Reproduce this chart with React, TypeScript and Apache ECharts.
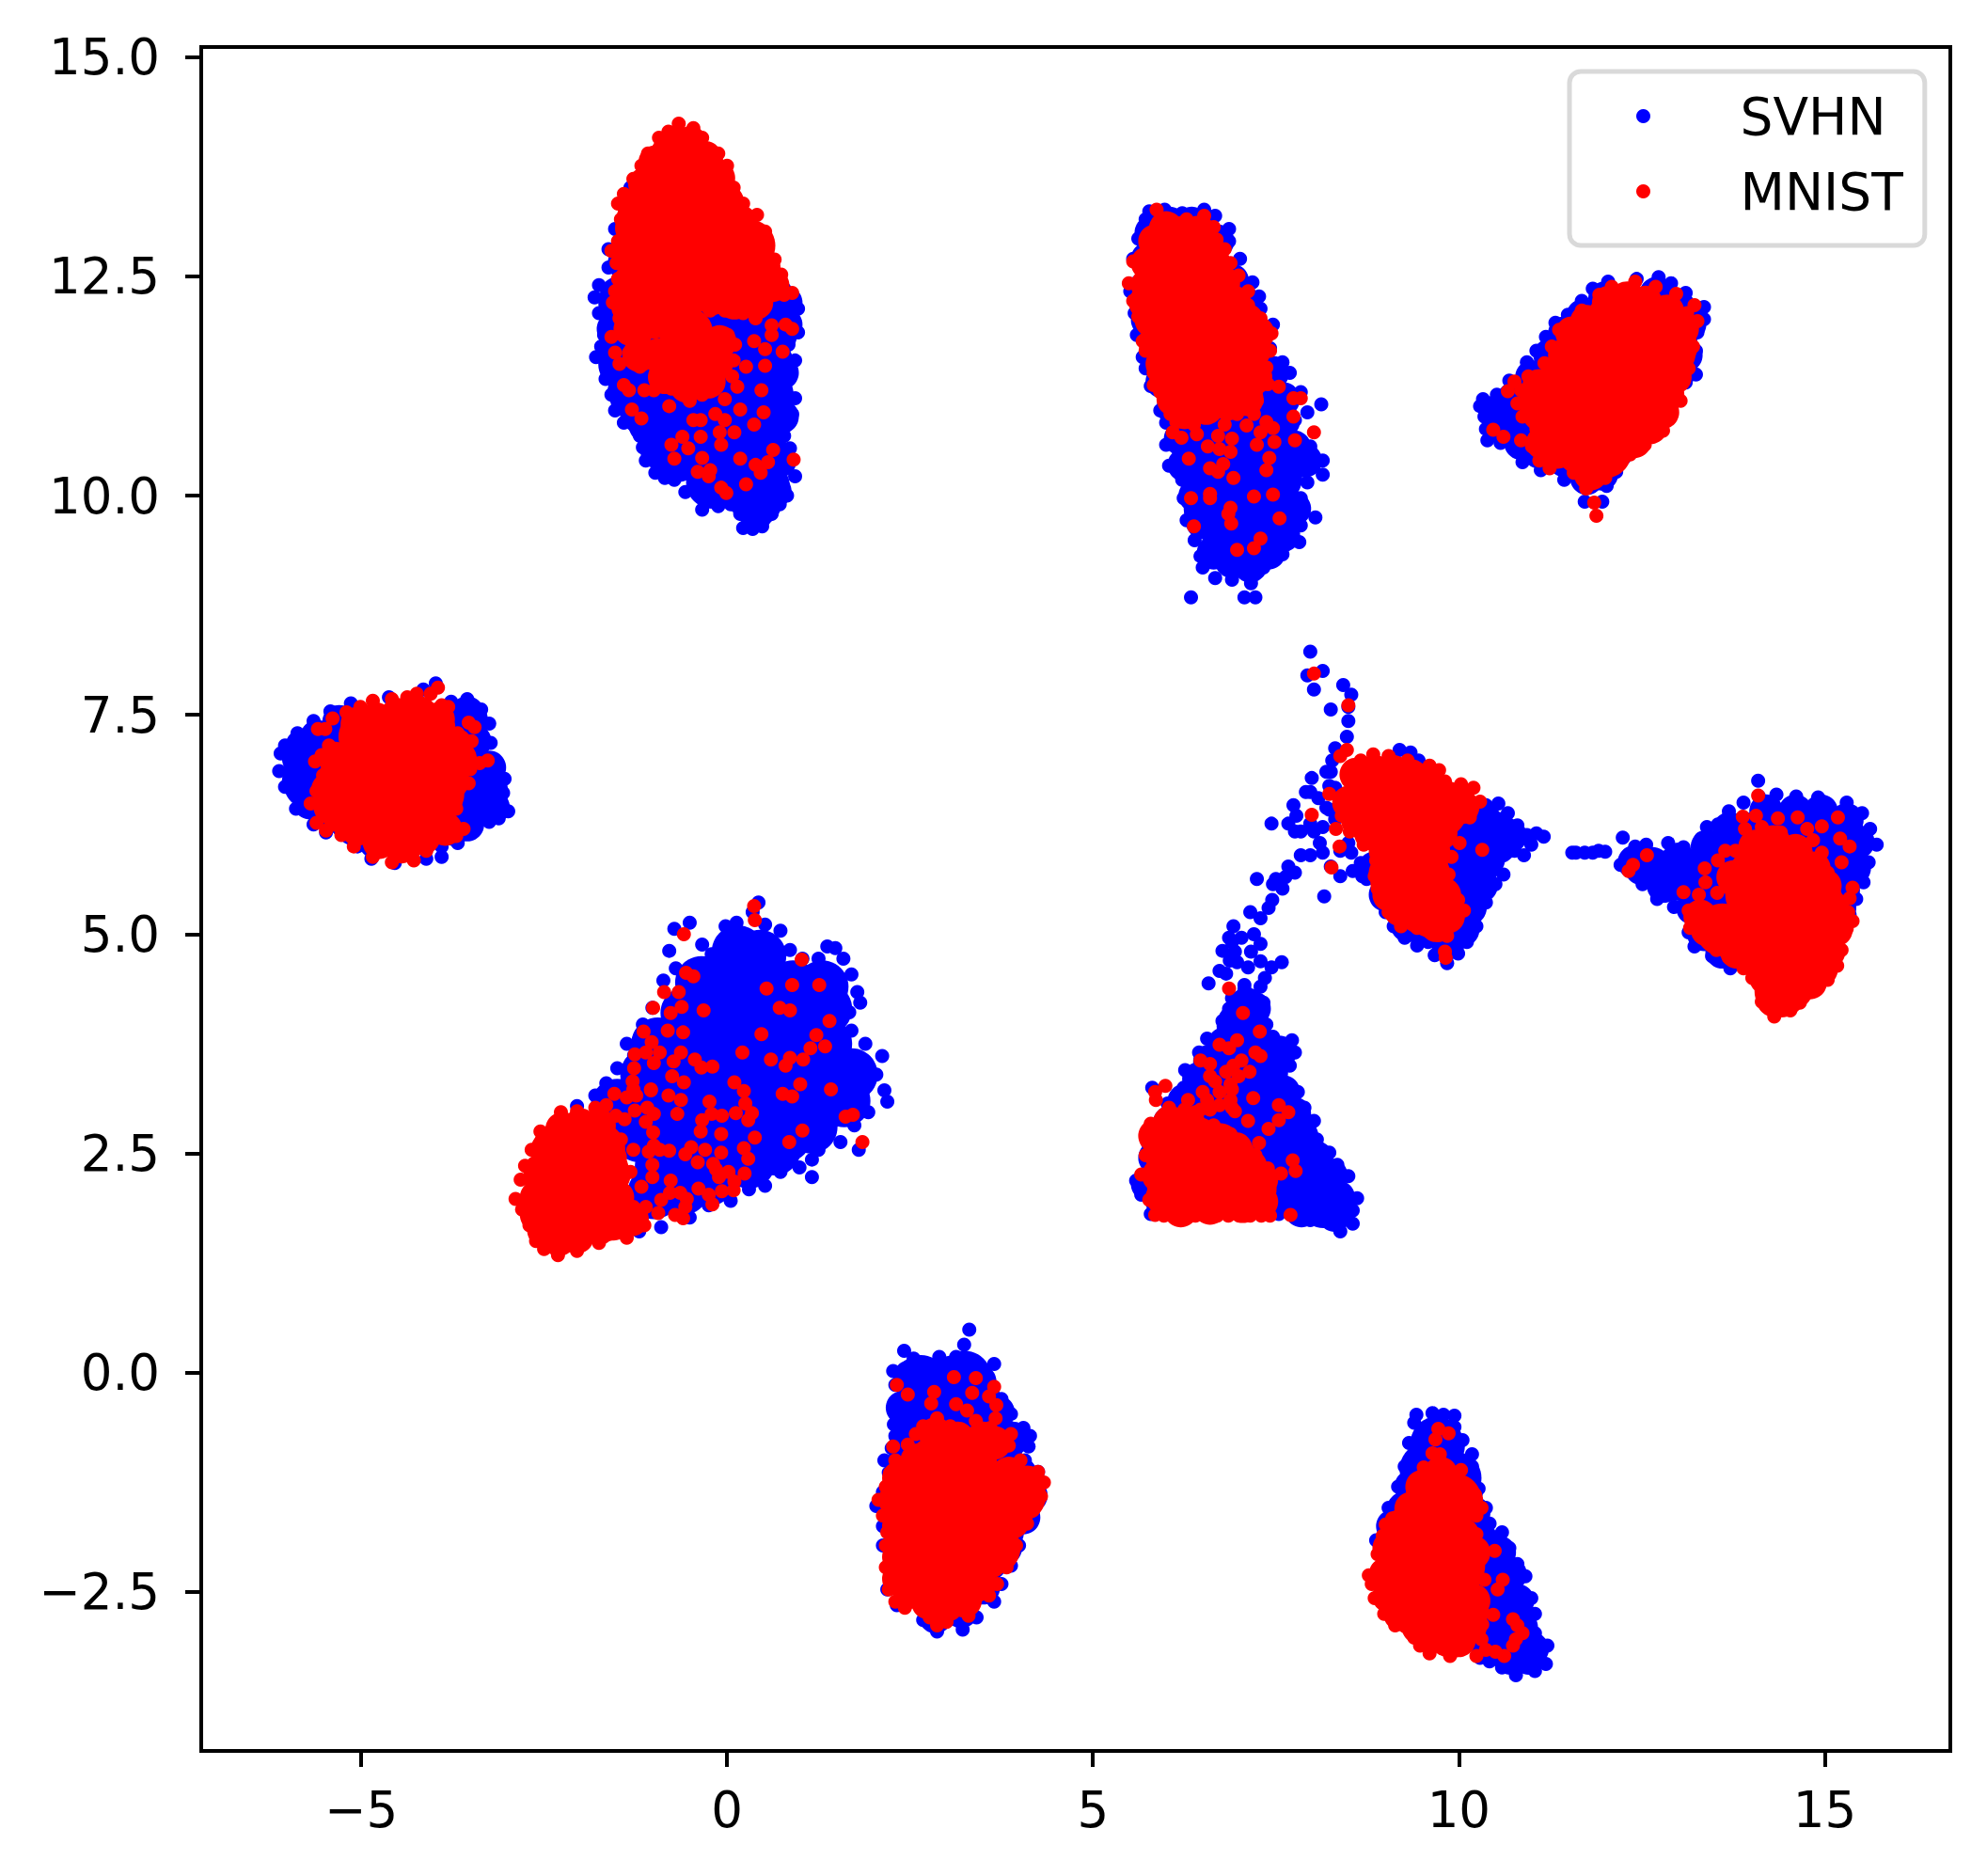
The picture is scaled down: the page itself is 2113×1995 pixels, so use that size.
import React, { useEffect, useRef } from "react";
import * as echarts from "echarts";

type P = number[][];

const xTicks = [-5, 0, 5, 10, 15];
const yTicks = [-2.5, 0, 2.5, 5, 7.5, 10, 12.5, 15];

// ---- SVHN: individual points read along each cloud's edge
const svhnA: P = [[-1.32,13.51],[-1.53,13.04],[-1.62,12.81],[-1.62,12.6],[-1.75,12.4],[-1.81,12.26],[-1.75,12.08],[-1.68,11.83],[-1.72,11.7],[-1.79,11.58],[-1.66,11.33],[-1.58,11.15],[-1.53,10.97],[-1.41,10.83],[-1.19,10.68],[-1.15,10.55],[-1.11,10.4],[-.98,10.26],[-.72,10.18],[-.85,10.2],[-.57,10.04],[-.34,9.84],[-.12,9.88],[.05,9.9],[.18,9.79],[.22,9.63],[.35,9.62],[.48,9.65],[.61,9.79],[.72,9.9],[.82,10.0],[.93,10.22],[.86,10.54],[.78,10.68],[.89,10.93],[.93,11.11],[.8,11.33],[.93,11.54],[.84,11.72],[.97,11.86],[.97,12.13],[.78,12.36]];
const svhnL: P = [[-6.1,7.06],[-6.12,6.86],[-6.04,6.68],[-5.89,6.43],[-5.65,6.25],[-5.48,6.16],[-5.05,6.0],[-4.86,5.86],[-4.54,5.81],[-4.11,5.86],[-3.9,5.88],[-3.9,6.0],[-3.68,6.04],[-3.42,6.25],[-3.12,6.32],[-2.99,6.4],[-3.06,6.61],[-3.04,6.77],[-3.15,6.95],[-3.23,7.18],[-3.25,7.4],[-3.36,7.56],[-3.55,7.68],[-3.77,7.65],[-3.98,7.86],[-4.15,7.79],[-4.62,7.7],[-5.14,7.63],[-5.42,7.54],[-5.65,7.43],[-5.87,7.29],[-6.04,7.15],[-5.3,6.2],[-3.25,6.28]];
const svhnT: P = [[5.77,13.24],[5.98,13.26],[6.22,13.22],[6.52,13.26],[6.67,13.19],[6.86,13.04],[6.86,12.9],[7.01,12.7],[7.18,12.43],[7.27,12.27],[7.29,12.13],[7.46,11.95],[7.42,11.68],[7.59,11.52],[7.69,11.4],[7.84,11.18],[8.12,11.04],[7.93,10.95],[7.76,10.86],[7.69,10.68],[7.97,10.56],[8.14,10.4],[8.14,10.24],[7.93,10.15],[7.84,9.97],[8.04,9.75],[7.84,9.66],[7.82,9.47],[7.59,9.33],[7.33,9.18],[7.16,9.0],[7.22,8.84],[7.07,8.84],[6.9,9.04],[6.67,9.06],[6.5,9.18],[6.47,9.31],[6.39,9.49],[6.28,9.72],[6.24,9.97],[6.22,10.18],[6.04,10.34],[6.0,10.58],[6.0,10.83],[5.92,10.97],[5.79,11.25],[5.72,11.45],[5.68,11.58],[5.6,11.83],[5.57,12.08],[5.51,12.33],[5.55,12.7],[5.62,12.93],[5.72,13.15],[6.34,8.84]];
const svhnR: P = [[12.73,12.49],[12.9,12.42],[13.1,12.31],[13.35,12.15],[13.35,12.01],[13.26,11.86],[13.24,11.65],[13.24,11.38],[13.1,11.29],[12.26,10.43],[12.15,10.27],[12.02,10.11],[11.96,9.93],[11.72,9.93],[11.44,10.18],[11.12,10.29],[10.87,10.38],[10.76,10.54],[10.57,10.6],[10.39,10.63],[10.37,10.76],[10.35,10.9],[10.29,11.02],[10.33,11.1],[10.52,11.15],[10.69,11.31],[10.93,11.52],[11.06,11.65],[11.19,11.81],[11.32,11.97],[11.49,12.06],[11.68,12.22],[11.83,12.36],[12.04,12.44],[12.43,12.47]];
const svhnE: P = [[14.09,6.75],[14.34,6.59],[14.61,6.57],[14.91,6.56],[15.3,6.5],[15.51,6.38],[15.62,6.2],[15.71,6.02],[15.6,5.82],[15.53,5.59],[15.43,5.4],[15.34,5.22],[13.71,4.61],[13.46,4.75],[13.22,4.86],[13.14,5.02],[13.11,5.22],[12.94,5.31],[12.71,5.4],[12.51,5.57],[12.39,5.72],[12.21,5.79],[12.41,6.0],[12.56,6.02],[12.86,6.04],[13.07,5.99],[13.31,6.09],[13.39,6.22],[13.54,6.25],[13.69,6.4],[13.89,6.5],[14.1,6.57],[12.24,6.1],[12.0,5.94],[11.91,5.95],[11.83,5.93],[11.72,5.93],[11.6,5.93],[11.55,5.93]];
const svhnF: P = [[.43,5.36],[.52,5.11],[.73,5.04],[.86,4.82],[1.03,4.72],[1.25,4.72],[1.37,4.86],[1.48,4.84],[1.59,4.72],[1.7,4.54],[1.78,4.34],[1.82,4.22],[1.67,4.11],[1.7,3.9],[1.89,3.75],[2.12,3.61],[2.04,3.4],[2.15,3.22],[2.19,3.09],[1.93,2.97],[1.74,2.82],[1.8,2.54],[1.55,2.63],[1.25,2.54],[1.16,2.43],[1.16,2.23],[.99,2.34],[.73,2.29],[.52,2.13],[.3,2.09],[.05,1.96],[-.25,1.91],[-.51,1.77],[-.9,1.66],[-1.2,1.61],[-2.05,3.04],[-1.8,3.16],[-1.65,3.3],[-1.5,3.47],[-1.37,3.75],[-1.27,3.62],[-1.15,3.97],[-1.02,4.16],[-.87,4.47],[-.7,4.61],[-.79,4.81],[-.72,5.06],[-.51,5.13],[-.34,4.88],[-.21,4.77],[-.02,5.09],[.13,5.13],[.35,5.25]];
const svhnBranch: P = [[7.97,8.22],[7.93,7.95],[8.14,8.0],[8.02,7.79],[8.42,7.84],[8.53,7.73],[8.49,7.59],[8.25,7.56],[8.49,7.43],[8.47,7.25],[8.31,7.12],[8.27,6.98],[8.25,6.85],[7.99,6.78],[7.91,6.62],[7.74,6.47],[7.78,6.35],[7.67,6.26],[7.44,6.26],[7.76,6.17],[8.02,6.17],[8.14,6.22],[8.23,6.42],[8.31,6.31],[8.1,6.04],[7.84,5.9],[7.97,5.9],[8.14,5.93],[8.53,5.93],[8.55,5.72],[8.38,5.66],[8.68,5.66],[8.25,5.77],[8.16,5.43],[7.67,5.77],[7.76,5.7],[7.24,5.63],[7.46,5.57],[7.59,5.52],[7.45,5.39],[7.4,5.3],[7.15,5.25],[7.29,5.18],[6.92,5.09],[6.86,4.96],[7.2,5.0],[7.29,4.89],[6.77,4.81],[6.94,4.8],[7.16,4.8],[6.73,4.58],[6.58,4.44],[6.82,4.55],[7.12,4.62],[7.29,4.69],[7.58,4.68],[7.44,4.62],[7.35,4.5],[7.29,4.4],[7.07,4.42],[6.9,4.91],[7.03,4.96],[7.97,6.62],[7.97,6.26],[7.84,6.17],[8.19,6.85],[8.23,6.69],[8.31,6.67],[8.19,6.44],[8.38,5.95],[8.49,6.04],[8.66,5.81],[8.79,5.68],[7.63,5.65],[7.5,5.63],[8.08,6.55],[8.35,6.45],[6.97,4.68],[6.87,4.7]];
const svhnV: P = [[7.07,4.37],[7.33,4.22],[7.37,3.97],[7.46,3.83],[7.72,3.79],[7.76,3.65],[7.69,3.5],[7.57,3.41],[7.8,3.2],[7.89,3.02],[8.02,2.87],[8.06,2.66],[8.23,2.51],[8.34,2.37],[8.49,2.24],[8.61,1.99],[8.55,1.85],[8.55,1.7],[8.38,1.61],[7.97,1.74],[7.54,1.81],[5.79,1.81],[5.66,2.03],[5.59,2.19],[5.75,2.62],[6.02,3.07],[6.24,3.25],[6.26,3.45],[6.45,3.65],[6.56,3.81],[6.77,3.83],[6.77,4.01],[6.86,4.15],[6.9,4.27],[5.81,3.25]];
const svhnC: P = [[9.19,7.1],[9.34,7.07],[9.45,6.98],[10.54,6.49],[10.67,6.38],[10.8,6.24],[10.93,6.13],[11.06,6.15],[11.16,6.11],[10.99,6.02],[10.89,5.9],[10.76,5.95],[10.54,5.88],[10.61,5.68],[10.5,5.57],[10.33,5.45],[10.37,5.36],[10.24,5.09],[10.11,4.91],[9.99,4.78],[9.84,4.67],[9.67,4.76],[9.58,4.91],[9.43,4.87],[9.26,4.96],[9.11,5.09],[9.0,5.25],[8.74,5.63],[8.7,5.77],[10.16,6.44],[10.37,6.47]];
const svhnB: P = [[3.31,.49],[3.24,.32],[3.13,.18],[2.9,.18],[2.75,.07],[2.55,.16],[2.42,.25],[2.27,.02],[2.3,-.14],[2.32,-.43],[2.28,-.59],[2.3,-.72],[2.25,-.86],[2.15,-1.0],[2.21,-1.14],[2.13,-1.36],[2.04,-1.52],[2.13,-1.75],[2.13,-1.97],[2.19,-2.47],[2.32,-2.65],[2.68,-2.82],[2.87,-2.95],[3.22,-2.93],[3.41,-2.79],[3.65,-2.61],[3.75,-2.41],[3.88,-2.2],[3.99,-1.97],[4.16,-1.68],[4.29,-1.25],[4.25,-1.13],[4.07,-1.0],[4.12,-.84],[4.14,-.72],[4.05,-.63],[3.88,-.47],[3.75,-.3],[3.65,.1],[3.47,.05],[3.33,.14],[3.56,-.07]];
const svhnG: P = [[9.42,-.48],[9.39,-.57],[9.64,-.46],[9.79,-.48],[9.94,-.49],[9.94,-.62],[10.05,-.77],[10.18,-.93],[10.18,-1.07],[10.27,-1.32],[10.37,-1.54],[10.42,-1.72],[10.59,-1.82],[10.69,-2.0],[10.8,-2.18],[10.91,-2.32],[10.99,-2.57],[11.04,-2.75],[11.04,-2.97],[11.21,-3.11],[11.19,-3.32],[11.04,-3.4],[10.78,-3.45],[10.59,-3.36],[10.42,-3.29],[10.29,-3.25],[8.87,-1.91],[9.04,-1.54],[9.17,-1.3],[9.26,-1.07],[9.32,-.8],[9.52,-.66]];

// ---- SVHN: centres of the solid inner mass of each cloud
const svhnCore: P = [
[-1.4,12.2],[-1,12.2],[-.6,12.2],[-.2,12.2],[.2,12.2],[.55,12.2],[-1.4,11.85],[-1,11.85],[-.6,11.85],[-.2,11.85],[.2,11.85],[.6,11.85],[-1.4,11.5],[-1,11.5],[-.6,11.5],[-.2,11.5],[.2,11.5],[.55,11.5],[-1.25,11.15],[-.9,11.15],[-.5,11.15],[-.1,11.15],[.3,11.15],[.55,11.15],[-1,10.85],[-.6,10.8],[-.2,10.8],[.2,10.8],[.5,10.8],[-.75,10.5],[-.4,10.45],[0,10.45],[.4,10.45],[.5,10.45],[-.2,10.15],[.2,10.1],[.5,10.1],[.4,9.95],[-.7,13],[-.3,12.8],
[-5.7,6.98],[-5.7,6.72],[-5.35,7.15],[-5.3,6.5],[-4.9,7.2],[-4.5,7.2],[-4.5,6.3],[-4.1,6.3],[-3.7,7.25],[-3.62,6.95],[-3.5,6.72],[-3.35,6.62],
[6.6,10.7],[7.1,10.9],[7.3,10.95],[7.2,10.55],[7.4,10.45],[7.6,10.45],[6.6,10.2],[7.05,10.3],[7.5,10.2],[6.55,10.55],[6.9,9.95],[6.6,9.85],[7.4,9.9],[7.5,9.8],[6.85,9.55],[7.25,9.55],[7.05,9.65],[7.45,9.6],[6.9,12.2],[6.9,11.7],[7.1,11.3],
[10.75,10.9],[11.1,11.0],[11.45,11.35],[11.2,10.75],[11.7,10.6],[11.9,10.4],[12.7,11.95],[12.9,11.8],[11.75,11.75],[11.95,11.95],
[12.95,5.68],[13.4,5.65],[13.8,5.95],[13.6,5.2],[14.3,6.15],[14.8,6.15],[15.2,6.1],[15.25,5.8],[15.05,5.5],
[-.35,4.45],[.05,4.45],[.45,4.45],[.9,4.4],[1.3,4.4],[.15,4.8],[.45,4.75],[-.55,4.1],[-.15,4.1],[.25,4.1],[.65,4.1],[1.05,4.1],[1.35,4.15],[-.95,3.75],[-.55,3.75],[-.15,3.75],[.25,3.75],[.65,3.75],[1.05,3.75],[1.35,3.75],[-1.1,3.4],[-.7,3.4],[-.3,3.4],[.1,3.4],[.5,3.4],[.9,3.4],[1.3,3.4],[1.7,3.4],[-1.5,3.05],[-1.1,3.05],[-.7,3.05],[-.3,3.05],[.1,3.05],[.5,3.05],[.9,3.05],[1.3,3.05],[1.6,3.1],[-1.2,2.7],[-.8,2.7],[-.4,2.7],[0,2.7],[.4,2.7],[.8,2.7],[1.15,2.8],[-.9,2.35],[-.5,2.35],[-.1,2.35],[.3,2.4],[.65,2.55],[-1,2.05],[-.6,2.1],[-.25,2.2],
[7.05,3.95],[6.85,3.5],[7.25,3.4],[6.7,3.15],[7.1,3.1],[7.45,2.95],[7.65,2.55],[7.3,2.5],[7.95,2.2],[7.6,2.15],[8.15,1.95],[7.2,2.1],[7.9,2.0],[6.4,2.8],[6.9,2.75],[7.3,2.85],
[10.25,6.1],[10.05,5.85],[10.2,5.8],[9.9,5.4],[9.95,5.2],[9.7,5.2],[9.9,6.1],
[2.7,-.3],[3.1,-.3],[3.4,-.35],[2.6,-.7],[3,-.7],[3.4,-.8],[3.7,-.8],[3.65,-1.1],[3.55,-.65],[2.65,-.1],[3.25,-.05],[2.55,-2.35],[3.25,-2.4],[3.5,-2.1],[3.7,-1.8],
[9.7,-.8],[9.7,-1.2],[9.95,-1.2],[10,-1.6],[10.1,-1.95],[10.35,-2.3],[10.55,-2.7],[10.7,-3.0],[10.4,-2.95],[9.55,-1.1],[9.55,-1.4],[9.9,-2.8]
];
const svhnFill: P = [
[-1.5,12.3],[-1.55,11.9],[-1.5,11.55],[-1.4,11.2],[-1.2,10.9],[-.95,10.5],[-.65,10.35],[-.3,10.1],[0,10.05],[.4,9.8],[.65,10.05],[.72,10.4],[.75,10.9],[.75,11.4],[.8,11.95],[.8,12.2],[-1.3,12.9],[-1.4,12.65],
[-5.85,7.0],[-5.85,6.75],[-5.7,6.5],[-5.8,7.15],[-5.6,7.25],[-5.3,7.42],[-3.5,7.45],[-3.45,7.2],[-3.4,6.9],[-3.25,6.6],[-3.2,6.45],[-3.55,6.25],[-3.75,6.2],[-5.4,6.35],[-5.1,6.2],[-4.8,6.05],[-3.55,7.52],[-3.25,6.9],
[6.25,10.35],[6.2,10.65],[6.15,10.95],[6.4,10],[6.5,9.7],[6.65,9.35],[6.9,9.25],[7.15,9.2],[7.4,9.35],[7.6,9.55],[7.75,9.85],[7.9,10.4],[7.75,10.55],[7.6,10.85],[7.6,11.1],[7.45,11.4],[7.2,11.8],[7.05,12.15],[6.9,12.45],[6.7,12.9],[6.35,13.1],[6.05,13.1],[5.8,13],[5.75,12.7],[5.7,12.35],[5.75,12],[5.85,11.6],[5.95,11.3],[6.1,11],
[12.7,12.3],[13,12.15],[13.15,11.95],[13.1,11.6],[12,12.25],[11.7,12.05],[11.45,11.85],[11.25,11.6],[11,11.35],[10.75,11.1],[10.5,10.95],[10.55,10.8],[10.85,10.6],[11.1,10.5],[11.45,10.4],[11.75,10.2],[11.95,10.25],[12.1,10.5],[10.9,11],[10.85,10.8],[13,11.4],
[14.2,6.4],[14.6,6.4],[14.95,6.4],[15.3,6.3],[15.45,6.05],[15.4,5.75],[15.25,5.5],[15.2,5.3],[13.7,6.2],[13.4,6],[13,5.85],[12.65,5.8],[12.5,5.75],[12.8,5.55],[13.2,5.3],[13.35,5],[13.6,4.8],[12.4,5.82],[13.9,6.2],
[7.2,4.15],[7.1,4.2],[7.3,3.75],[7.55,3.65],[7.45,3.5],[7.6,3.2],[7.75,2.95],[7.85,2.7],[8.05,2.45],[8.25,2.25],[8.35,2],[8.3,1.8],[6.95,4],[6.8,3.75],[6.6,3.55],[6.45,3.35],[6.25,3.1],[6.05,2.85],[5.85,2.45],[5.75,2.15],[5.95,1.95],[7.55,2],[7.85,1.85],
[10.35,6.3],[10.55,6.2],[10.7,6.12],[10.4,5.85],[10.3,5.55],[10.15,5.3],[10.05,5.05],[9.85,4.9],[9.6,5.05],[9.3,5.1],[10.55,6],[9,5.45],[8.85,5.75],
[2.5,-.05],[2.4,-.4],[2.45,-.75],[2.4,-1.05],[2.35,-1.35],[3.05,0],[3.25,.05],[3.45,-.1],[3.7,-.45],[3.9,-.75],[4,-1.15],[2.85,-2.78],[3.2,-2.72],[3.5,-2.45],[3.8,-2],[4.05,-1.65],[4.15,-1.4],[2.8,-.05],
[9.55,-.85],[9.85,-.85],[9.9,-1.1],[10.1,-1.35],[10.2,-1.6],[10.3,-1.9],[10.55,-2.05],[10.7,-2.3],[10.8,-2.6],[10.85,-2.9],[11,-3.15],[10.95,-3.25],[10.7,-3.25],[9.45,-1.05],[9.35,-1.3],[9.25,-1.55],[9.1,-1.75],[10.5,-3.15]
];

// ---- MNIST: individual points read inside and along each cloud
const mnistA: P = [[-.66,14.24],[-.46,14.19],[-.34,14.08],[-.12,13.9],[0,13.76],[.09,13.51],[.22,13.33],[.41,13.2],[.52,13.01],[.52,12.83],[.65,12.69],[.74,12.52],[.89,12.31],[.78,12.29],[.52,12.19],[.39,12.02],[.22,12.08],[-.03,12.11],[-.23,12.11],[-.38,12],[.01,11.83],[.11,11.72],[.26,11.47],[.09,11.54],[-.08,11.43],[.07,11.36],[.14,11.24],[-.03,11.1],[-.34,11.15],[-.16,10.93],[-.03,10.86],[-.1,10.72],[.1,10.72],[-.08,10.58],[-.34,10.43],[-.23,10.29],[-.25,10.22],[-.4,10.27],[-.72,10.42],[-.76,10.58],[-.53,10.54],[-.61,10.67],[-.36,10.67],[-.46,10.86],[-.36,10.86],[-.51,11.08],[-.79,11.02],[-.76,11.22],[-1.13,11.2],[-1.34,11.2],[-1.17,10.88],[-1.3,10.98],[-1.41,11.26],[-1.47,11.5],[-1.19,11.47],[-1.53,11.63],[-1.34,11.63],[-1.58,11.81],[-1.13,11.81],[-1.41,11.86],[-1.47,12.02],[-1.56,12.2],[-.08,10.09],[-.01,10.03],[.18,10.98],[.37,10.81],[.5,10.95],[.47,11.2],[.52,11.48],[.76,11.64],[.52,11.67],[.37,11.76],[.61,11.83],[.61,11.94],[.8,11.95],[.89,11.9],[.63,10.52],[.56,10.38],[.39,10.35],[.46,10.26],[.18,10.42],[.26,10.13],[.91,10.41],[-.93,14.08],[-1.08,13.9],[-1.17,13.76],[-1.28,13.61],[-1.41,13.44],[-1.49,13.33],[-1.45,13.15],[-1.49,12.9],[-1.58,12.79],[-1.51,12.65],[-1.49,12.47],[-1.53,12.33],[-.8,14.15],[-1.3,11.75],[-1,11.55],[-.9,11.3],[-1,11.2],[-.6,11.25]];
const mnistL: P = [[-5.59,7.34],[-5.39,7.46],[-5.2,7.53],[-5.01,7.59],[-4.84,7.66],[-4.58,7.68],[-4.37,7.7],[-4.24,7.74],[-4.05,7.74],[-3.95,7.81],[-3.9,7.61],[-3.81,7.59],[-4.02,7.47],[-3.81,7.38],[-3.68,7.29],[-3.53,7.41],[-3.45,7.36],[-3.49,7.2],[-3.38,6.95],[-3.27,6.98],[-3.51,6.88],[-3.53,6.72],[-3.66,6.66],[-3.7,6.43],[-3.6,6.2],[-3.7,6.12],[-3.87,6.23],[-4.02,6.13],[-4.11,5.95],[-4.28,5.84],[-4.58,5.82],[-4.84,5.88],[-5.1,6],[-5.27,6.13],[-5.48,6.18],[-5.61,6.27],[-5.69,6.49],[-5.61,6.63],[-5.52,6.81],[-5.63,6.97],[-5.54,7.04],[-5.44,7.15],[-5.49,7.34],[-5.3,6.88]];
const mnistT: P = [[5.87,13.26],[5.98,13.15],[6.28,13.15],[6.52,13.19],[6.65,13.06],[6.69,12.92],[6.8,12.81],[6.88,12.65],[6.99,12.51],[7.12,12.33],[7.12,12.17],[7.29,12.02],[7.44,11.85],[7.42,11.65],[7.16,11.58],[7.37,11.46],[7.39,11.27],[7.54,11.24],[7.24,11.08],[6.97,10.93],[7.2,10.93],[7.37,10.84],[7.46,10.77],[7.29,10.72],[7.48,10.61],[7.24,10.58],[7.41,10.43],[7.37,10.29],[7.84,11.11],[7.74,11.11],[7.74,10.9],[7.76,10.63],[8.02,10.72],[6.8,10.81],[6.71,10.68],[6.57,10.56],[6.73,10.53],[6.88,10.5],[6.78,10.36],[6.6,10.31],[6.71,10.27],[6.92,10.2],[6.31,10.42],[6.34,9.97],[6.6,10.02],[6.6,9.97],[7.2,9.99],[7.46,10.01],[6.88,9.86],[6.85,9.79],[6.89,9.68],[6.38,9.65],[7.55,9.74],[7.29,9.51],[7.2,9.4],[6.97,9.38],[6.52,10.9],[6.38,10.81],[6.21,10.66],[6.09,10.72],[6.14,10.84],[6.06,10.93],[5.92,11.18],[5.83,11.26],[5.83,11.4],[5.72,11.65],[5.68,11.76],[5.62,12.04],[5.55,12.22],[5.49,12.42],[5.55,12.67],[5.75,12.93],[5.87,13.08],[6.9,10.65],[7.1,10.8],[6.42,10.7]];
const mnistR: P = [[12.41,12.44],[12.69,12.38],[12.97,12.3],[13.22,12.17],[13.26,11.99],[13.12,12.08],[13.2,11.7],[13.14,11.45],[13.01,11.29],[13.03,11.08],[12.9,10.93],[12.79,10.74],[12.54,10.58],[12.34,10.47],[12.13,10.43],[12,10.2],[11.85,9.92],[11.88,9.77],[11.74,10.08],[11.57,10.26],[11.24,10.31],[11.1,10.4],[11,10.56],[10.85,10.63],[10.61,10.67],[10.47,10.75],[10.8,11.05],[10.67,11.19],[10.76,11.3],[10.95,11.36],[11.17,11.51],[11.27,11.7],[11.37,11.89],[11.68,12.11],[11.92,12.29],[12.09,12.38],[10.87,10.9],[11.06,10.76],[10.85,11.2],[10.95,11.05]];
const mnistE: P = [[14.09,6.58],[13.88,6.34],[14.06,6.35],[14.36,6.32],[14.63,6.33],[15.18,6.33],[14.96,6.23],[14.76,6.2],[14.84,6.07],[15.21,6.09],[15.34,6],[14.96,5.93],[15.23,5.82],[14.74,5.93],[15.04,5.7],[15.38,5.53],[15.34,5.41],[15.32,5.25],[15.38,5.15],[15.3,5.06],[15.23,4.82],[15.17,4.64],[15.04,4.48],[14.91,4.4],[14.66,4.22],[14.53,4.13],[14.31,4.06],[14.14,4.23],[14.01,4.5],[13.89,4.61],[13.69,4.73],[13.52,4.82],[13.35,4.97],[13.16,5.07],[13.14,5.27],[13.07,5.48],[13.28,5.45],[13.37,5.59],[13.36,5.75],[13.54,5.84],[13.64,5.95],[13.78,5.95],[13.99,5.93],[13.91,6.2],[14.14,6.22],[14.4,6.16],[14.61,6],[12.57,5.9],[12.38,5.79],[12.32,5.72],[13.53,5.47],[13.65,5.54],[13.76,5.43],[13.5,5.22],[13.8,5.27],[13.35,5.2]];
const mnistFLobe: P = [[-2.89,1.98],[-2.82,2.2],[-2.76,2.36],[-2.67,2.54],[-2.55,2.75],[-2.27,2.97],[-2.05,2.98],[-1.8,3.02],[-1.54,3.18],[-1.28,3.23],[-1.04,3.23],[-1.62,2.72],[-1.45,2.66],[-1.28,2.54],[-1.32,2.29],[-1.54,2.14],[-1.62,2],[-1.45,1.86],[-1.37,1.54],[-1.75,1.48],[-2.05,1.39],[-2.31,1.34],[-2.5,1.41],[-2.61,1.5],[-2.7,1.68],[-2.8,1.86],[-1.28,1.89],[-1.11,1.89],[-.94,1.82],[-1.13,1.68],[-1.37,1.68],[-1.37,3.14],[-1.24,3.16],[-1.65,3.05]];
const mnistF: P = [[.37,5.32],[.38,5.16],[-.59,5],[-.56,4.56],[-.46,4.52],[1.02,4.71],[.54,4.38],[.89,4.42],[1.26,4.42],[-.86,4.34],[-.66,4.34],[-1.01,4.16],[-.62,4.17],[-.77,4.1],[-.32,4.13],[.72,4.16],[.86,4.13],[1.4,4.01],[.47,3.86],[-.81,3.9],[-.6,3.88],[-1.14,3.89],[1.22,3.85],[1.34,3.72],[1.14,3.7],[-1.03,3.77],[.21,3.65],[.6,3.57],[.86,3.59],[1.04,3.57],[.8,3.5],[-1.26,3.63],[-1.11,3.65],[-.92,3.65],[-1,3.53],[-.63,3.65],[-.73,3.55],[-.44,3.57],[-.35,3.48],[-.2,3.49],[-1.27,3.47],[-.75,3.38],[-.59,3.31],[-1.29,3.32],[.1,3.31],[1,3.29],[1.42,3.23],[.76,3.18],[.89,3.15],[.23,3.21],[-1.04,3.22],[-.8,3.16],[-.63,3.11],[-.24,3.09],[.25,3.07],[-1.26,2.99],[-1.09,3.02],[-1,2.95],[-.68,2.95],[-1.52,2.93],[-1.4,2.89],[.34,2.96],[.29,2.88],[.12,2.96],[-.07,2.93],[-.21,2.95],[-.34,2.88],[-1.11,2.86],[1.62,2.92],[1.72,2.94],[-1.01,2.74],[-.36,2.75],[-.08,2.72],[1.03,2.76],[.38,2.68],[.85,2.63],[1.85,2.63],[-1,2.59],[-.49,2.57],[-.3,2.54],[.23,2.56],[-1.07,2.52],[-.92,2.54],[-.79,2.53],[-.57,2.49],[-.08,2.51],[-.4,2.4],[.29,2.44],[-1.02,2.37],[-.19,2.38],[-.15,2.32],[.02,2.29],[.24,2.27],[-1.02,2.23],[-.11,2.23],[-.77,2.19],[.1,2.18],[-1.17,2.12],[-.39,2.1],[.09,2.08],[-.07,2.07],[-.25,2.03],[-.78,2.05],[-.64,2.05],[-.55,1.98],[-.9,1.97],[-.2,1.92],[-.57,1.89],[-.71,1.8],[-.6,1.76]];
const mnistV: P = [[5.99,3.27],[5.85,3.2],[5.86,3.11],[6.3,3.11],[6.04,3.02],[6.47,3],[6.86,4.38],[7.05,4.1],[7.28,3.89],[6.97,3.79],[6.73,3.74],[6.86,3.7],[7.22,3.65],[7.29,3.61],[6.47,3.56],[6.6,3.52],[6.92,3.5],[7.14,3.43],[6.67,3.32],[6.5,3.2],[6.9,3.23],[6.73,3.2],[7.19,3.13],[6.9,3.02],[7.54,3.05],[7.67,2.97],[7.12,2.87],[7.54,2.88],[7.4,2.78],[6.94,2.98],[7.27,2.62],[7.73,2.42],[7.77,2.3],[7.57,2.27],[7.39,2.33],[7.4,2.04],[7.7,1.8],[7.31,2.18],[5.79,2.84],[6.13,2.89],[6.65,2.82],[6.88,2.72],[7.05,2.57],[7.22,2.48],[5.74,2.69],[5.72,2.48],[5.66,2.26],[5.77,1.97],[5.85,1.8],[5.97,1.79],[6.1,1.79],[6.25,1.79],[6.4,1.79],[6.55,1.79],[6.7,1.79],[6.85,1.79],[7,1.79],[7.15,1.79],[7.3,1.79],[7.42,1.79],[6.6,3.38],[6.82,3.43],[7.03,3.56],[6.56,3.11],[6.73,3.05],[6.88,3.11],[6.99,3.38],[6.88,3.29],[6.4,2.97],[6.6,3],[6.25,3]];
const mnistC: P = [[8.38,7.03],[8.47,7.1],[8.66,6.98],[8.83,7.05],[9.04,7.03],[9.3,6.98],[9.6,6.92],[9.73,6.87],[9.81,6.74],[10.03,6.71],[10.2,6.67],[10.29,6.51],[10.15,6.33],[9.92,6.27],[9.84,6.13],[10.01,6.04],[9.9,5.88],[9.86,5.68],[9.74,5.81],[9.99,5.39],[10.07,5.27],[9.98,5.18],[9.84,4.98],[9.81,4.8],[9.82,4.73],[9.69,5],[9.43,5.07],[9.21,5.09],[9.04,5.25],[8.89,5.52],[8.85,5.66],[8.87,5.84],[8.7,6.02],[8.51,6.17],[8.4,6.35],[8.23,6.6],[8.51,6.85],[8.32,6.2],[8.37,6],[8.26,5.76],[7.99,6.36],[8.02,7.97],[8.49,7.61],[10.32,5.96],[10.05,6.5],[10.1,6.6],[8.55,6.55]];
const mnistB: P = [[2.32,-.14],[2.47,-.25],[2.83,-.22],[2.79,-.35],[3.1,-.05],[3.4,-.06],[3.35,-.23],[3.65,-.16],[3.58,-.27],[3.68,-.37],[3.13,-.36],[3.28,-.43],[3.67,-.52],[3.6,-.63],[3.88,-.7],[3.85,-.83],[3.65,-.91],[3.4,-.55],[2.68,-.61],[2.58,-.7],[2.27,-.84],[2.47,-.82],[2.83,-.88],[2.3,-1],[2.23,-1.14],[2.17,-1.3],[2.07,-1.45],[2.13,-1.63],[2.19,-1.82],[2.17,-1.97],[2.17,-2.22],[2.21,-2.47],[2.3,-2.61],[2.43,-2.68],[2.77,-2.79],[2.87,-2.88],[3,-2.84],[3.3,-2.77],[3.58,-2.54],[3.69,-2.41],[3.82,-2.22],[3.95,-1.97],[4.1,-1.72],[4.18,-1.57],[4.29,-1.41],[4.33,-1.25],[4.25,-1.13],[4.01,-1],[3.82,-1.07],[3.62,-1.16],[3.52,-2.32],[3.05,-.61],[3.26,-.72],[3.13,-.86],[2.87,-.52],[3.4,-.85],[2.95,-.75],[3.5,-.75]];
const mnistG: P = [[9.72,-.64],[9.86,-.69],[9.68,-.76],[9.64,-.92],[9.74,-.93],[9.52,-1.08],[10.03,-1.11],[9.71,-1.18],[9.37,-1.32],[9.26,-1.47],[9.88,-1.3],[10.12,-1.3],[10.22,-1.39],[10.31,-1.54],[10.24,-1.63],[10.01,-1.63],[9.09,-1.66],[9,-1.73],[8.96,-1.86],[8.89,-2.07],[8.77,-2.31],[8.81,-2.41],[8.85,-2.57],[8.98,-2.75],[9.13,-2.88],[9.39,-3.02],[9.47,-3.11],[9.6,-3.2],[9.88,-3.23],[10.24,-3.23],[10.5,-3.18],[10.62,-3.23],[10.31,-3.04],[10.32,-2.87],[10.29,-2.57],[10.16,-2.45],[10.21,-2.27],[10.31,-2.11],[10.31,-2.02],[10.24,-1.84],[10.14,-1.77],[10.49,-2.03],[10.35,-2.36],[10.6,-2.36],[10.53,-2.47],[10.47,-2.76],[10.74,-2.81],[10.8,-2.88],[10.87,-2.97],[10.78,-3.04],[10.74,-3.11],[10.37,-3.16]];

// ---- MNIST: centres of the solid inner mass of each cloud
const mnistCore: P = [
[-.7,13.85],[-.4,13.75],[-.95,13.5],[-.55,13.45],[-.2,13.4],[-1.15,13.15],[-.75,13.1],[-.35,13],[.05,13],[-1.2,12.75],[-.8,12.75],[-.4,12.7],[0,12.7],[.3,12.85],[-1.2,12.4],[-.8,12.4],[-.4,12.4],[0,12.4],[.35,12.45],[-1.2,12.25],[-.75,12.15],[-.6,11.55],[-.35,11.5],[-.55,11.85],
[-5,6.4],[-4.5,6.3],[-4.1,6.5],[-5,6.9],[-4.5,6.8],[-4,6.9],[-4.7,7.25],[-4.2,7.25],[-3.95,6.6],[-4.95,7.25],[-5.2,6.55],[-4.4,6.15],
[6.2,12.8],[6.3,12.5],[5.95,12.4],[6.6,12.4],[6,12],[6.4,12],[6.8,12.05],[6.1,11.6],[6.5,11.6],[6.9,11.6],[6.3,11.3],[6.7,11.25],[7,11.3],[6.1,12.8],[6.4,11.15],
[12.1,12],[12.6,12],[12.9,11.7],[12.4,11.6],[11.9,11.7],[11.55,11.4],[12.6,11.2],[12.1,11.2],[11.7,11.1],[12.7,11.45],[12.3,10.85],[11.85,10.7],[11.45,10.85],[11.2,11],[12,10.5],
[14.2,5.75],[14.55,5.7],[14,5.45],[14.4,5.35],[14.9,5.35],[14.05,5.05],[14.5,5],[14.9,4.95],[13.8,4.98],[14.5,4.6],[14.8,4.7],[14.4,4.35],[14.35,5.85],[13.6,5.05],
[-2.4,1.75],[-2,1.75],[-1.65,1.8],[-2.4,2.15],[-2,2.15],[-1.7,2.3],[-2.3,2.55],[-1.95,2.6],[-1.75,2.55],
[6.15,2.5],[6.55,2.5],[6.9,2.4],[6.1,2.1],[6.5,2.1],[6.9,2.1],[7.15,2.1],
[8.95,6.6],[9.35,6.55],[9.75,6.4],[8.85,6.3],[9.2,6.2],[9.5,6.15],[9.3,5.8],[9.5,5.75],[9.25,5.45],[9.6,5.4],[9.65,5.25],[9.15,5.6],
[2.55,-1.25],[2.95,-1.15],[3.35,-1.1],[3.8,-1.35],[4,-1.4],[2.55,-1.6],[2.95,-1.55],[3.35,-1.55],[3.75,-1.6],[2.55,-2],[2.95,-2],[3.35,-2],[3.65,-2],[2.55,-2.35],[2.95,-2.45],[3.3,-2.35],
[9.35,-1.95],[9.75,-1.85],[9.75,-1.5],[9.35,-2.35],[9.75,-2.3],[10,-2.2],[9.4,-2.7],[9.8,-2.7],[10.05,-2.7],[9.9,-2.95],[9.6,-1.5],[9.95,-1.45]
];
const mnistFill: P = [
[-1.3,12.45],[-1.35,12.75],[-1.3,13.05],[-1.25,13.3],[-1.12,13.55],[-.98,13.8],[-.75,14],[-.5,14.02],[-.3,13.85],[-.12,13.62],[0,13.35],[.18,13.12],[.33,12.9],[.5,12.6],[.62,12.4],[.4,12.2],[.1,12.2],[-.2,12.25],[-1.35,12.15],[-1.32,11.9],[-1,11.98],[-.7,11.85],[-.95,11.6],[-.1,11.75],[-.15,11.5],[-.25,11.3],[-.55,11.25],[-.85,11.35],[-1.2,11.6],
[-5.42,6.45],[-5.3,6.35],[-5.05,6.2],[-4.75,6.05],[-4.45,6],[-4.15,6.1],[-3.95,6.35],[-3.85,6.2],[-3.85,6.5],[-3.75,6.75],[-3.65,7],[-3.7,7.15],[-3.95,7.45],[-4.2,7.52],[-4.5,7.5],[-4.8,7.45],[-5.05,7.4],[-5.35,7],[-5.35,6.8],[-5.45,6.65],
[5.75,12.4],[5.75,12.65],[5.85,12.9],[6,13.05],[6.25,13],[6.45,13],[6.55,12.85],[6.65,12.65],[6.78,12.42],[6.93,12.2],[7.1,12],[7.25,11.85],[7.2,11.65],[7.22,11.35],[7.1,11.1],[6.85,11.05],[6.55,11],[6.25,10.95],[6.1,11.1],[6,11.3],[5.95,11.5],[5.85,11.75],[5.8,12],[5.72,12.2],
[12.3,12.25],[12.55,12.2],[12.85,12.1],[13.05,11.9],[13,11.6],[12.95,11.35],[12.85,11.15],[12.78,10.95],[12.62,10.78],[12.4,10.62],[12.15,10.58],[11.95,10.45],[11.8,10.25],[11.6,10.45],[11.35,10.5],[11.15,10.6],[11.25,10.85],[11.05,11.05],[11.1,11.25],[11.35,11.4],[11.45,11.6],[11.55,11.85],[11.75,11.98],[12.05,12.2],
[15.1,5.3],[15.15,5.05],[15.05,4.8],[14.95,4.6],[14.8,4.45],[14.6,4.35],[14.3,4.25],[14.2,4.5],[14.05,4.7],[13.8,4.8],[13.55,5],[13.4,5.05],[13.3,5.2],[13.9,5.2],[15,5.55],[14.85,5.75],[14.6,5.95],[14.3,6.05],[14.05,6],[13.95,5.75],[13.75,5.65],
[-2.6,2],[-2.55,2.3],[-2.45,2.55],[-2.25,2.78],[-2,2.82],[-1.75,2.82],[-1.6,2.45],[-1.55,2.25],[-1.5,2],[-1.55,1.7],[-1.75,1.65],[-2.05,1.55],[-2.3,1.52],[-2.5,1.62],[-2.6,1.8],[-1.3,1.75],
[5.95,2],[5.9,2.25],[5.92,2.5],[5.95,2.72],[6.2,2.75],[6.45,2.72],[6.75,2.65],[6.95,2.55],[7.15,2.35],[7.3,2.2],[7.3,1.95],[7.05,1.9],[6.2,1.85],[6.6,1.88],[5.85,2.7],[6.05,2.85],[6.3,2.85],
[8.6,6.82],[8.85,6.85],[9.1,6.85],[9.35,6.8],[9.6,6.7],[9.85,6.55],[10.05,6.45],[9.75,6.15],[9.65,5.95],[9.65,5.7],[9.8,5.45],[9.85,5.2],[9.7,5.1],[9.45,5.2],[9.2,5.28],[9.05,5.45],[9,5.7],[9,5.95],[8.8,6.15],[8.62,6.3],[8.5,6.5],
[2.35,-1.2],[2.3,-1.45],[2.35,-1.75],[2.35,-2.1],[2.35,-2.35],[2.5,-2.5],[2.75,-2.62],[3,-2.65],[3.25,-2.6],[3.45,-2.4],[3.6,-2.15],[3.72,-1.95],[3.9,-1.7],[4.02,-1.5],[4.1,-1.25],[3.85,-1.15],[3.6,-1.35],[2.75,-.95],[3.1,-1],[3.45,-1],[2.6,-1],[2.85,-.7],[3.15,-.75],[3.5,-.75],[3.65,-.8],
[9.05,-2],[9,-2.3],[9.05,-2.55],[9.2,-2.75],[9.45,-2.9],[9.7,-3],[10,-3.05],[10.15,-2.9],[10.2,-2.6],[10.1,-2.3],[10.2,-2.05],[10.05,-1.85],[10,-1.5],[9.2,-1.75],[9.35,-1.55],[9.5,-1.3],[9.75,-1.15],[10.1,-1.45]
];

const svhnDots = [...svhnA, ...svhnL, ...svhnT, ...svhnR, ...svhnE, ...svhnF, ...svhnBranch, ...svhnV, ...svhnC, ...svhnB, ...svhnG];
const mnistDots = [...mnistA, ...mnistL, ...mnistT, ...mnistR, ...mnistE, ...mnistFLobe, ...mnistF, ...mnistV, ...mnistC, ...mnistB, ...mnistG];

const FONT = "DejaVu Sans";
const fmtY = (v: number) => v.toFixed(1).replace("-", "\u2212");
const fmtX = (v: number) => String(v).replace("-", "\u2212");

export default function App() {
  const ref = useRef<HTMLDivElement>(null);
  useEffect(() => {
    const chart = echarts.init(ref.current!, undefined, { renderer: "svg" });
    const scatter = (name: string, color: string, size: number, data: P) => ({
      name, type: "scatter", data, symbol: "circle", symbolSize: size, silent: true,
      itemStyle: { color, opacity: 1 },
    });
    chart.setOption({
      animation: false,
      backgroundColor: "#fff",
      grid: { show: true, left: 214, top: 50, right: 39, bottom: 133, borderColor: "#000", borderWidth: 4, backgroundColor: "transparent" },
      legend: {
        show: true, left: 1669, top: 76, orient: "vertical", icon: "circle", data: ["SVHN", "MNIST"],
        itemWidth: 160, itemHeight: 15, itemGap: 25, padding: [20, 23, 30, 71],
        backgroundColor: "rgba(255,255,255,0.8)", borderColor: "#d9d9d9", borderWidth: 5, borderRadius: 12,
        textStyle: { fontFamily: FONT, fontSize: 55, color: "#000", padding: [0, 0, 8, 18] },
      },
      xAxis: {
        type: "value", min: -7.185, max: 16.716, splitLine: { show: false },
        axisLine: { show: false, onZero: false },
        axisTick: { show: true, length: 17, lineStyle: { color: "#000", width: 4 }, customValues: xTicks },
        axisLabel: { color: "#000", fontFamily: FONT, fontSize: 53, margin: 36, customValues: xTicks, formatter: fmtX },
      },
      yAxis: {
        type: "value", min: -4.312, max: 15.114, splitLine: { show: false },
        axisLine: { show: false, onZero: false },
        axisTick: { show: true, length: 17, lineStyle: { color: "#000", width: 4 }, customValues: yTicks },
        axisLabel: { color: "#000", fontFamily: FONT, fontSize: 53, margin: 44, customValues: yTicks, formatter: fmtY },
      },
      series: [
        scatter("SVHN", "#0000ff", 15, svhnDots),
        scatter("SVHN", "#0000ff", 36, svhnFill),
        scatter("SVHN", "#0000ff", 56, svhnCore),
        scatter("MNIST", "#ff0000", 56, mnistCore),
        scatter("MNIST", "#ff0000", 36, mnistFill),
        scatter("MNIST", "#ff0000", 15, mnistDots),
      ],
    });
    return () => chart.dispose();
  }, []);
  return <div ref={ref} style={{ position: "fixed", left: 0, top: 0, width: 2113, height: 1995 }} />;
}
